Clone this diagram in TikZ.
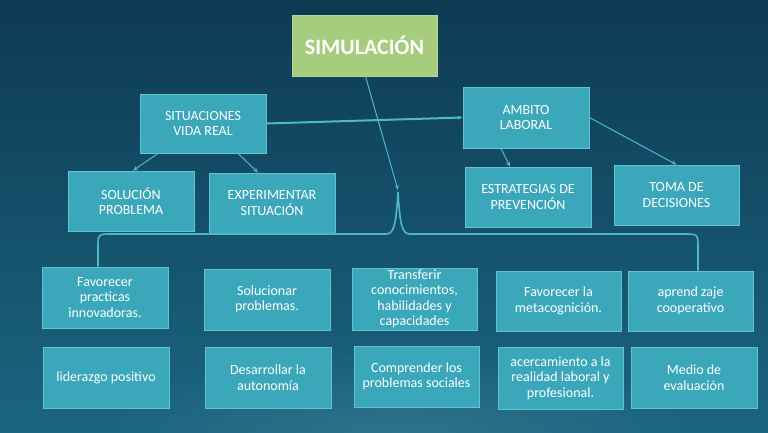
\documentclass[tikz,border=0pt]{standalone}
\usepackage{fontspec}
\setmainfont{Carlito}
\usetikzlibrary{arrows.meta,shadings}
\definecolor{bgtop}{HTML}{0E3A52}
\definecolor{bgbot}{HTML}{1B6580}
\definecolor{boxc}{HTML}{3AA8BA}
\definecolor{boxl}{HTML}{62C3D2}
\definecolor{greenc}{HTML}{A6CC7E}
\definecolor{linec}{HTML}{4DB8CA}
\tikzset{
  bx/.style={draw=boxl, line width=0.8pt, fill=boxc, text=white, font=\fontsize{14}{15.5}\selectfont, align=center, inner sep=0pt},
  ar/.style={draw=linec, line width=1pt, -{Stealth[length=5pt,width=4pt]}},
}
\newcommand{\bxn}[6]{\node[bx, minimum width={(#4-#2)*1pt}, minimum height={(#5-#3)*1pt}] (#1) at ({(#2+#4)/2},{(#3+#5)/2}) {#6};}
\begin{document}
\begin{tikzpicture}[x=1pt,y=-1pt]
\useasboundingbox (0,0) rectangle (768,433);
\begin{scope}
\clip (0,0) rectangle (768,433);
\shade[top color=bgtop, bottom color=bgbot] (0,0) rectangle (768,433);
\shade[inner color=bgbot!70!white, outer color=bgbot, opacity=0.3] (400,433) ellipse (300 and 80);
\end{scope}
\node[bx, fill=greenc, draw=greenc!80!white, minimum width=145pt, minimum height=61pt, font=\fontsize{22}{24}\selectfont\bfseries] (sim) at (364.5,45.5) {SIMULACIÓN};
\bxn{sit}{140}{94}{266}{153}{SITUACIONES\\VIDA REAL}
\bxn{amb}{463}{87}{589}{148}{AMBITO\\LABORAL}
\bxn{sol}{68}{171}{194}{231}{SOLUCIÓN\\PROBLEMA}
\bxn{exp}{209}{173}{335}{233}{EXPERIMENTAR\\SITUACIÓN}
\bxn{est}{465}{167}{591}{227}{ESTRATEGIAS DE\\PREVENCIÓN}
\bxn{tom}{614}{165}{739}{225}{TOMA DE\\DECISIONES}
\bxn{a1}{42}{267}{168}{328}{Favorecer\\practicas\\innovadoras.}
\bxn{a2}{204}{269}{330}{330}{Solucionar\\problemas.}
\bxn{a3}{352}{268}{477}{330}{Transferir\\conocimientos,\\habilidades y\\capacidades}
\bxn{a4}{496}{271}{621}{331}{Favorecer la\\metacognición.}
\bxn{a5}{628}{271}{753}{331}{aprend zaje\\cooperativo}
\bxn{b1}{43}{347}{169}{408}{liderazgo positivo}
\bxn{b2}{205}{347}{331}{408}{Desarrollar la\\autonomía}
\bxn{b3}{354}{346}{479}{407}{Comprender los\\problemas sociales}
\bxn{b4}{498}{347}{623}{409}{acercamiento a la\\realidad laboral y\\profesional.}
\bxn{b5}{631}{347}{757}{408}{Medio de\\evaluación}
\coordinate (peak) at (398,190);
\draw[ar, line width=2pt] (sit.east) -- (amb.west);
\draw[ar] (sim.south) ++(1,0) -- (peak);
\draw[ar] (sit.south) ++(-45,0) -- (sol.north -| 133,0);
\draw[ar] (sit.south) ++(35,0) -- (exp.north -| 258,0);
\draw[ar] (amb.south) ++(-25,0) -- (est.north -| 510,0);
\draw[ar] (amb.east) -- (tom.north);
\draw[linec, line width=1.6pt] (a1.north -| 98,0) -- (98,248) .. controls (98,234) .. (112,234) -- (386,234)
  .. controls (394,234) and (396,225) .. (398,192) .. controls (400,225) and (402,234) .. (410,234)
  -- (684,234) .. controls (698,234) .. (698,248) -- (a5.north -| 698,0);
\end{tikzpicture}
\end{document}
